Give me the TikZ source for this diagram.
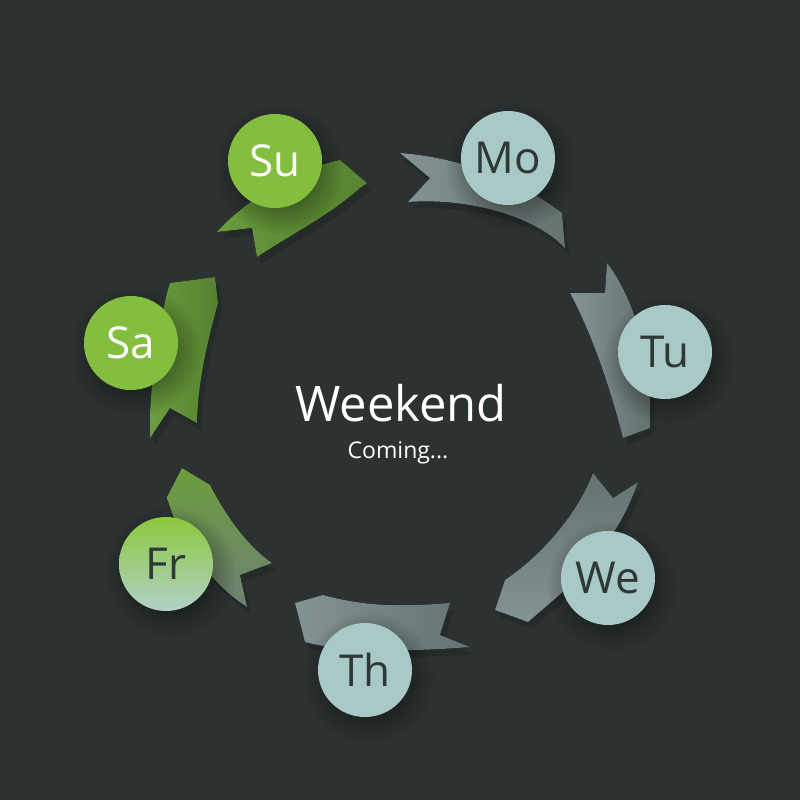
\documentclass[tikz,border=0pt]{standalone}
\usepackage{fontspec}
\setmainfont{Open Sans}
\usetikzlibrary{fadings}
\definecolor{bg}{RGB}{44,50,50}
\definecolor{graycirc}{RGB}{168,201,198}
\definecolor{graytext}{RGB}{47,56,56}
\definecolor{grayribA}{RGB}{132,148,146}
\definecolor{grayribB}{RGB}{100,114,112}
\definecolor{greencirc}{RGB}{132,190,62}
\definecolor{greenribA}{RGB}{108,158,62}
\definecolor{greenribB}{RGB}{84,128,48}
\definecolor{frtop}{RGB}{140,200,60}
\definecolor{frbot}{RGB}{178,208,200}
\tikzfading[name=softcirc, inner color=transparent!0, outer color=transparent!100]
\tikzset{
  daybase/.style={circle, minimum size=94pt, inner sep=0pt, font=\fontsize{44}{44}\selectfont},
  grayday/.style={daybase, fill=graycirc, text=graytext},
  greenday/.style={daybase, fill=greencirc, text=white},
  frday/.style={daybase, top color=frtop, bottom color=frbot, text=graytext},
  cshadow/.style={fill=black, fill opacity=0.75, path fading=softcirc},
  rshadow/.style={fill=black, fill opacity=0.15},
  grayrib/.style={left color=grayribA, right color=grayribB},
  greenrib/.style={left color=greenribA, right color=greenribB},
}
\newcommand\daycirc[5]{%
  \fill[cshadow] (#2+4,#3+8) circle (66pt);
  \node[#4] (#1) at (#2,#3) {#5};
}
\begin{document}
\begin{tikzpicture}[x=1pt,y=-1pt]
\fill[bg] (0,0) rectangle (800,800);
\useasboundingbox (0,0) rectangle (800,800);

% ribbon shadows
\begin{scope}[shift={(4,7)}]
\fill[rshadow] (217,232) -- (252,228) -- (257,257) .. controls (290,235) and (330,215) .. (360,188) -- (367,183) -- (340,160) .. controls (300,168) and (245,200) .. cycle;
\fill[rshadow] (400,153) -- (430,178) -- (408,202) .. controls (460,198) and (530,212) .. (565,248) -- (562,213) .. controls (530,188) and (470,158) .. cycle;
\fill[rshadow] (607,263) -- (605,293) -- (570,293) .. controls (595,340) and (612,395) .. (623,438) -- (650,428) -- (650,398) .. controls (648,340) and (628,290) .. cycle;
\fill[rshadow] (593,473) -- (613,498) -- (638,482) .. controls (625,520) and (600,560) .. (557,597) -- (528,622) -- (495,610) -- (505,580) .. controls (535,560) and (575,520) .. cycle;
\fill[rshadow] (295,603) -- (323,595) .. controls (370,608) and (410,606) .. (450,603) -- (440,635) -- (470,647) .. controls (410,652) and (340,652) .. (305,642) -- cycle;
\fill[rshadow] (182,468) -- (210,485) .. controls (228,520) and (250,548) .. (272,563) -- (240,575) -- (247,607) .. controls (205,580) and (175,530) .. (167,497) -- cycle;
\fill[rshadow] (170,283) -- (215,277) -- (218,303) .. controls (208,340) and (198,380) .. (197,423) -- (170,408) -- (150,438) .. controls (148,400) and (158,320) .. cycle;
\end{scope}

% ribbons
\fill[greenrib, shading angle=60] (217,232) -- (252,228) -- (257,257) .. controls (290,235) and (330,215) .. (360,188) -- (367,183) -- (340,160) .. controls (300,168) and (245,200) .. cycle;
\fill[grayrib] (400,153) -- (430,178) -- (408,202) .. controls (460,198) and (530,212) .. (565,248) -- (562,213) .. controls (530,188) and (470,158) .. cycle;
\fill[grayrib] (607,263) -- (605,293) -- (570,293) .. controls (595,340) and (612,395) .. (623,438) -- (650,428) -- (650,398) .. controls (648,340) and (628,290) .. cycle;
\fill[grayrib, shading angle=180] (593,473) -- (613,498) -- (638,482) .. controls (625,520) and (600,560) .. (557,597) -- (528,622) -- (495,610) -- (505,580) .. controls (535,560) and (575,520) .. cycle;
\fill[grayrib] (295,603) -- (323,595) .. controls (370,608) and (410,606) .. (450,603) -- (440,635) -- (470,647) .. controls (410,652) and (340,652) .. (305,642) -- cycle;
\fill[top color=greenribA, bottom color={rgb,255:red,110;green,128;blue,118}] (182,468) -- (210,485) .. controls (228,520) and (250,548) .. (272,563) -- (240,575) -- (247,607) .. controls (205,580) and (175,530) .. (167,497) -- cycle;
\fill[greenrib, shading angle=90] (170,283) -- (215,277) -- (218,303) .. controls (208,340) and (198,380) .. (197,423) -- (170,408) -- (150,438) .. controls (148,400) and (158,320) .. cycle;

% day circles
\daycirc{su}{275}{161}{greenday}{Su}
\daycirc{mo}{508}{158}{grayday}{Mo}
\daycirc{tu}{665}{352}{grayday}{Tu}
\daycirc{we}{608}{578}{grayday}{We}
\daycirc{th}{365}{670}{grayday}{Th}
\daycirc{fr}{166}{564}{frday}{Fr}
\daycirc{sa}{131}{343}{greenday}{Sa}

% center text
\node[text=white, font=\fontsize{49}{49}\selectfont] (wk) at (401,403) {Weekend};
\node[text=white, font=\fontsize{23}{23}\selectfont] (cm) at (398,453) {Coming...};
\end{tikzpicture}
\end{document}
